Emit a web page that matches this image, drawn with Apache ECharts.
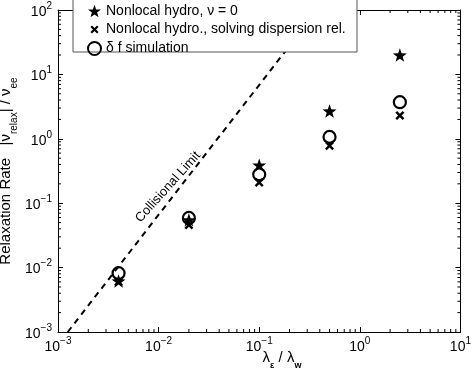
<!DOCTYPE html>
<html><head><meta charset="utf-8">
<script src="https://cdn.jsdelivr.net/npm/echarts@6/dist/echarts.min.js"></script>
<style>html,body{margin:0;padding:0;background:#fff}#c{width:474px;height:372px}</style>
</head><body><div id="c"></div>
<script>
// ---- data ----
var lambdaRatio = [0.004, 0.02, 0.1, 0.5, 2.5];
var hydroNu0 = [0.0062, 0.055, 0.39, 2.7, 20];
var hydroDisp = [0.006, 0.046, 0.21, 0.78, 2.3];
var deltaFSim = [0.0082, 0.059, 0.28, 1.07, 3.7];
var limitX = [0.00125, 0.378];
var limitY = [0.001, 100];
var xRange = [0.001, 10];
var yRange = [0.001, 100];
var minorMult = [2, 3, 4, 5, 6, 7, 8, 9];
var seriesNames = ['Nonlocal hydro, \u03bd = 0', 'Nonlocal hydro., solving dispersion rel.', '\u03b4 f simulation'];

var FONT = '"Liberation Sans", Arial, Helvetica, sans-serif';
function pair(xs, ys){ return xs.map(function(x,i){ return [x, ys[i]]; }); }
function minorTicks(lo, hi){
  var out = [];
  for (var d = lo; d < hi; d *= 10) minorMult.forEach(function(m){ out.push(m*d); });
  return out;
}
var xMinor = minorTicks(xRange[0], xRange[1]);
var yMinor = minorTicks(yRange[0], yRange[1]);

var STAR = 'path://M0,-10 L2.35,-3.24 L9.51,-3.09 L3.8,1.24 L5.88,8.09 L0,4 L-5.88,8.09 L-3.8,1.24 L-9.51,-3.09 L-2.35,-3.24 Z';
var CROSS = 'path://M0,1.9 L1.9,0 L5,3.1 L8.1,0 L10,1.9 L6.9,5 L10,8.1 L8.1,10 L5,6.9 L1.9,10 L0,8.1 L3.1,5 Z';
var CROSS_LEGEND = 'path://M-3,-3 L-3,-3 Z M13,13 L13,13 Z M0,1.9 L1.9,0 L5,3.1 L8.1,0 L10,1.9 L6.9,5 L10,8.1 L8.1,10 L5,6.9 L1.9,10 L0,8.1 L3.1,5 Z';

function supLabel(v){
  var e = Math.round(Math.log10(v));
  return '{b|10}{s|' + (e < 0 ? '\u2212' + (-e) : e) + '}';
}
var tickRich = {
  b: {fontSize: 14, fontFamily: FONT, color: '#000', lineHeight: 18, verticalAlign: 'bottom'},
  s: {fontSize: 10, fontFamily: FONT, color: '#000', lineHeight: 18, verticalAlign: 'top'}
};
function axisBase(){
  return {
    type: 'log', logBase: 10,
    axisLine: {show: true, onZero: false, lineStyle: {color: '#000', width: 1}},
    axisTick: {show: true, inside: true, length: 5, lineStyle: {color: '#000', width: 1}},
    splitLine: {show: false}, minorTick: {show: false}, minorSplitLine: {show: false}
  };
}
var xBottom = Object.assign(axisBase(), {position: 'bottom', min: xRange[0], max: xRange[1],
  axisLabel: {formatter: supLabel, rich: tickRich, margin: 4, color: '#000'}});
var xTop = Object.assign(axisBase(), {position: 'top', min: xRange[0], max: xRange[1], axisLabel: {show: false}});
var yLeft = Object.assign(axisBase(), {position: 'left', min: yRange[0], max: yRange[1],
  axisLabel: {formatter: supLabel, rich: tickRich, margin: 6, color: '#000'}});
var yRight = Object.assign(axisBase(), {position: 'right', min: yRange[0], max: yRange[1], axisLabel: {show: false}});

var minorData = xMinor.map(function(v){ return [v, yRange[0], 0]; })
  .concat(yMinor.map(function(v){ return [xRange[0], v, 1]; }));

var chart = echarts.init(document.getElementById('c'), null, {renderer: 'canvas'});
chart.setOption({
  animation: false,
  backgroundColor: '#fff',
  grid: {left: 58, right: 8, top: 10, bottom: 40, containLabel: false},
  xAxis: [xBottom, xTop],
  yAxis: [yLeft, yRight],
  legend: {
    orient: 'vertical', left: 73, top: -1,
    padding: [5, 6, 2, 14],
    itemWidth: 13, itemHeight: 13, itemGap: 4.5, itemTextGap: 13,
    backgroundColor: 'transparent', borderWidth: 0,
    textStyle: {fontSize: 14, fontFamily: FONT, color: '#000'},
    data: [{name: seriesNames[0]}, {name: seriesNames[1], icon: CROSS_LEGEND}, {name: seriesNames[2]}],
    z: 10
  },
  graphic: [
    {type: 'rect', z: 5, shape: {x: 73, y: -2, width: 284, height: 54},
     style: {fill: '#fff', stroke: '#555', lineWidth: 1}},
    {type: 'text', z: 6, x: 9, y: 171, rotation: Math.PI/2,
     style: {text: '{m|Relaxation Rate   |\u03bd}{u|relax}{m|| / \u03bd}{u|ee}',
       align: 'center', verticalAlign: 'middle',
       rich: {m: {fontSize: 15, fontFamily: FONT, fill: '#000', lineHeight: 21, verticalAlign: 'top'},
              u: {fontSize: 10, fontFamily: FONT, fill: '#000', lineHeight: 21, verticalAlign: 'bottom'}}}},
    {type: 'text', z: 6, x: 282, y: 360,
     style: {text: '{m|\u03bb}{u|\u03b5}{m| / \u03bb}{u|w}',
       align: 'center', verticalAlign: 'middle',
       rich: {m: {fontSize: 15, fontFamily: FONT, fill: '#000', lineHeight: 20, verticalAlign: 'top'},
              u: {fontSize: 9, fontFamily: FONT, fill: '#000', lineHeight: 20, verticalAlign: 'bottom', fontWeight: 'bold'}}}},
    {type: 'text', z: 6, x: 168, y: 187, rotation: 48 * Math.PI/180,
     style: {text: 'Collisional Limit', align: 'center', verticalAlign: 'middle',
       fontSize: 13, fontFamily: FONT, fill: '#000'}}
  ],
  series: [
    {name: 'limit', type: 'line', data: pair(limitX, limitY), symbol: 'none', silent: true,
     lineStyle: {color: '#000', width: 2, type: [6, 5]}, z: 2},
    {name: seriesNames[1], type: 'scatter', data: pair(lambdaRatio, hydroDisp),
     symbol: CROSS, symbolSize: 9, symbolKeepAspect: true, itemStyle: {color: '#000', opacity: 1}, z: 3},
    {name: seriesNames[0], type: 'scatter', data: pair(lambdaRatio, hydroNu0),
     symbol: STAR, symbolSize: 14, symbolKeepAspect: true, itemStyle: {color: '#000', opacity: 1}, z: 3},
    {name: seriesNames[2], type: 'scatter', data: pair(lambdaRatio, deltaFSim),
     symbol: 'circle', symbolSize: 12,
     itemStyle: {color: 'rgba(0,0,0,0)', borderColor: '#000', borderWidth: 2.2, opacity: 1}, z: 4},
    {name: 'minorTicks', type: 'custom', silent: true, data: minorData, z: 2, clip: false,
     renderItem: function(params, api){
       var v = api.value(0), w = api.value(1), kind = api.value(2), L = 3;
       if (kind === 0) {
         var b = api.coord([v, yRange[0]]), t = api.coord([v, yRange[1]]);
         return {type: 'group', children: [
           {type: 'line', shape: {x1: b[0], y1: b[1], x2: b[0], y2: b[1]-L}, style: {stroke: '#000', lineWidth: 1}},
           {type: 'line', shape: {x1: t[0], y1: t[1], x2: t[0], y2: t[1]+L}, style: {stroke: '#000', lineWidth: 1}}]};
       } else {
         var l = api.coord([xRange[0], w]), r = api.coord([xRange[1], w]);
         return {type: 'group', children: [
           {type: 'line', shape: {x1: l[0], y1: l[1], x2: l[0]+L, y2: l[1]}, style: {stroke: '#000', lineWidth: 1}},
           {type: 'line', shape: {x1: r[0], y1: r[1], x2: r[0]-L, y2: r[1]}, style: {stroke: '#000', lineWidth: 1}}]};
       }
     }}
  ]
});
</script></body></html>
